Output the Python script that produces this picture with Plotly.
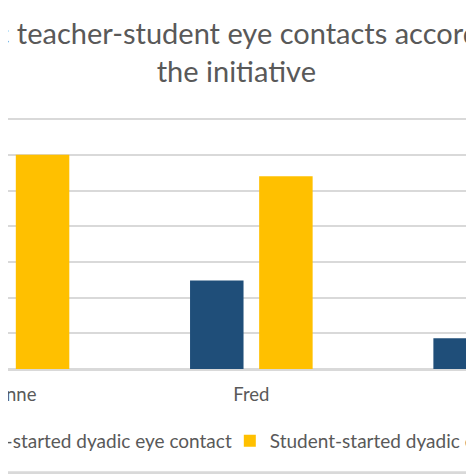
import plotly.graph_objects as go

teachers = ["Jeanne", "Fred", "Karin"]
teacher_started = [8.5, 12.4, 4.3]
student_started = [30, 27, 21]

series_names = ["Teacher-started dyadic eye contact", "Student-started dyadic eye contact"]
title_text = "Dyadic teacher-student eye contacts according to<br>the initiative"

grey_text = "#595959"
grid = "#D9D9D9"

fig = go.Figure()
fig.add_trace(go.Bar(x=teachers, y=teacher_started, name=series_names[0], legend="legend",
                     marker=dict(color="#1F4E79", line=dict(width=0))))
fig.add_trace(go.Bar(x=teachers, y=student_started, name=series_names[1], legend="legend2",
                     marker=dict(color="#FFC000", line=dict(width=0))))

legend_style = dict(orientation="h", y=-0.285, yanchor="middle", xanchor="left",
                    font=dict(size=19, color=grey_text), bgcolor="rgba(0,0,0,0)")

# the page adds an 8px body margin, so the figure is sized to fit the window
fig.update_layout(
    width=466, height=466,
    margin=dict(l=0, r=0, t=109, b=105, autoexpand=False),
    paper_bgcolor="white", plot_bgcolor="white",
    font=dict(family="Lato, Calibri, sans-serif", color=grey_text, size=19),
    title=dict(text=title_text, x=0.49, xanchor="center", y=0.923, yanchor="middle",
               font=dict(size=29, color=grey_text)),
    barmode="group", bargap=0.432, bargroupgap=0.226,
    showlegend=True,
    legend=dict(legend_style, x=-0.2296),
    legend2=dict(legend_style, x=0.476),
    xaxis=dict(range=[0.0, 1.915], showgrid=False, ticks="", ticklabelstandoff=8,
               showline=True, linecolor=grid, linewidth=1.5,
               tickfont=dict(size=18.5, color=grey_text)),
    yaxis=dict(range=[0, 35.3], tickvals=[5, 10, 15, 20, 25, 30, 35], showgrid=True,
               gridcolor=grid, gridwidth=1.5, showticklabels=False,
               zeroline=True, zerolinecolor=grid, zerolinewidth=1.5),
)

# light frame line at the bottom of the original picture
fig.add_shape(type="line", xref="paper", yref="paper", x0=0, x1=1, y0=-0.412, y1=-0.412,
              line=dict(color=grid, width=3))

fig.write_html("out.html")
